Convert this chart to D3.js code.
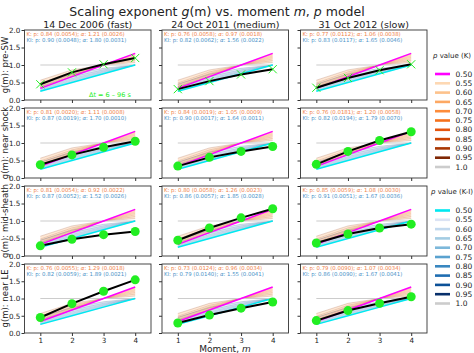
<!DOCTYPE html>
<html>
<head>
<meta charset="utf-8">
<title>Scaling exponent g(m) vs. moment m, p model</title>
<script src="https://d3js.org/d3.v7.min.js"></script>
<style>
  body { margin: 0; background: #fff; }
  svg { font-family: "DejaVu Sans", sans-serif; display: block; }
</style>
</head>
<body>
<svg width="474" height="353"></svg>
<script>
// moments and p values of the model curves
var moments = [1, 2, 3, 4];
var pLabels = ["0.50", "0.55", "0.60", "0.65", "0.70", "0.75", "0.80", "0.85", "0.90", "0.95", "1.0"];
var kColors = ["#ff00ff", "#fdd8b3", "#fdc28c", "#fda863", "#fd8c3b", "#f5711c", "#e5550e", "#cc4302", "#a93703", "#7f2704", "#cccccc"];
var kiColors = ["#00e8f0", "#dbe3f4", "#c2d9ee", "#a3cce3", "#7db8da", "#5aa2cf", "#3987c0", "#1f6db1", "#0c5197", "#08306b", "#cccccc"];

// p model g(m), Kolmogorov (K), one row per p value
var kModel = [
  [0.333, 0.667, 1.000, 1.333],
  [0.335, 0.668, 1.000, 1.330],
  [0.340, 0.673, 1.000, 1.320],
  [0.348, 0.682, 1.000, 1.305],
  [0.361, 0.694, 1.000, 1.282],
  [0.378, 0.710, 1.000, 1.253],
  [0.402, 0.732, 1.000, 1.218],
  [0.436, 0.762, 1.000, 1.176],
  [0.484, 0.801, 1.000, 1.128],
  [0.566, 0.860, 1.000, 1.070],
  [1.000, 1.000, 1.000, 1.000]
];
// p model g(m), Kraichnan-Iroshnikov (K-I)
var kiModel = [
  [0.250, 0.500, 0.750, 1.000],
  [0.251, 0.502, 0.751, 1.000],
  [0.256, 0.507, 0.755, 1.000],
  [0.263, 0.517, 0.762, 1.000],
  [0.273, 0.531, 0.773, 1.000],
  [0.288, 0.550, 0.786, 1.000],
  [0.309, 0.576, 0.805, 1.000],
  [0.338, 0.611, 0.828, 1.000],
  [0.380, 0.661, 0.860, 1.000],
  [0.454, 0.739, 0.905, 1.000],
  [1.000, 1.000, 1.000, 1.000]
];

var columns = ["14 Dec 2006 (fast)", "24 Oct 2011 (medium)", "31 Oct 2012 (slow)"];
var regions = ["pre-SW", "near shock", "mid-sheath", "near LE"];

// measured g(m), one array per event (column)
var gPreSW = [[0.45, 0.79, 1.02, 1.20], [0.31, 0.54, 0.73, 0.88], [0.35, 0.63, 0.85, 1.02]];
var gNearShock = [[0.38, 0.66, 0.88, 1.05], [0.34, 0.59, 0.76, 0.90], [0.39, 0.76, 1.07, 1.32]];
var gMidSheath = [[0.29, 0.48, 0.61, 0.70], [0.45, 0.80, 1.09, 1.35], [0.37, 0.63, 0.80, 0.91]];
var gNearLE = [[0.45, 0.85, 1.21, 1.54], [0.29, 0.52, 0.72, 0.90], [0.36, 0.65, 0.86, 1.05]];
var gData = [gPreSW, gNearShock, gMidSheath, gNearLE];

// fit results [p, p err, alpha, alpha err]
var kFit = [
  [["0.84", "0.0054", "1.21", "0.0026"], ["0.76", "0.0058", "0.97", "0.0018"], ["0.77", "0.0112", "1.06", "0.0038"]],
  [["0.81", "0.0020", "1.11", "0.0008"], ["0.84", "0.0019", "1.05", "0.0009"], ["0.76", "0.0181", "1.20", "0.0058"]],
  [["0.81", "0.0054", "0.92", "0.0022"], ["0.80", "0.0058", "1.26", "0.0023"], ["0.85", "0.0059", "1.08", "0.0030"]],
  [["0.76", "0.0055", "1.29", "0.0018"], ["0.73", "0.0124", "0.96", "0.0034"], ["0.79", "0.0090", "1.07", "0.0034"]]
];
var kiFit = [
  [["0.90", "0.0048", "1.80", "0.0031"], ["0.82", "0.0062", "1.56", "0.0022"], ["0.83", "0.0117", "1.65", "0.0046"]],
  [["0.87", "0.0019", "1.70", "0.0010"], ["0.90", "0.0017", "1.64", "0.0011"], ["0.82", "0.0194", "1.79", "0.0070"]],
  [["0.87", "0.0052", "1.52", "0.0026"], ["0.86", "0.0057", "1.85", "0.0028"], ["0.91", "0.0051", "1.67", "0.0036"]],
  [["0.82", "0.0059", "1.89", "0.0021"], ["0.79", "0.0140", "1.55", "0.0041"], ["0.86", "0.0090", "1.67", "0.0041"]]
];

var svg = d3.select("svg");
var colX = [[24.5, 151], [162, 288.5], [300.5, 427]];
var rowY = [[30, 100], [108, 178], [186, 256], [264, 333]];

// title
var title = svg.append("text").attr("x", 217).attr("y", 16)
  .attr("text-anchor", "middle").style("font-size", "12.5px").attr("fill", "#222");
title.append("tspan").text("Scaling exponent ");
title.append("tspan").style("font-style", "italic").text("g");
title.append("tspan").text("(m) vs. moment ");
title.append("tspan").style("font-style", "italic").text("m");
title.append("tspan").text(",  ");
title.append("tspan").style("font-style", "italic").text("p");
title.append("tspan").text(" model");

columns.forEach(function(c, i) {
  svg.append("text")
    .attr("x", (colX[i][0] + colX[i][1]) / 2).attr("y", 27.5)
    .attr("text-anchor", "middle").style("font-size", "9.5px").attr("fill", "#222")
    .text(c);
});

function fitLine(parent, x, y, label, f, color) {
  var t = parent.append("text").attr("x", x).attr("y", y)
    .style("font-size", "5.4px").attr("fill", color);
  t.append("tspan").text(label + ": p: " + f[0] + " (" + f[1] + "); ");
  t.append("tspan").style("font-style", "italic").text("α");
  t.append("tspan").text(": " + f[2] + " (" + f[3] + ")");
}

gData.forEach(function(rowVals, r) {
  rowVals.forEach(function(vals, c) {
    var x = d3.scaleLinear().domain([0.5, 4.5]).range(colX[c]);
    var y = d3.scaleLinear().domain([0, 2]).range([rowY[r][1], rowY[r][0]]);
    var g = svg.append("g");

    var line = d3.line()
      .x(function(d, i) { return x(moments[i]); })
      .y(function(d) { return y(d); });
    function band(lo, hi) {
      return d3.area()
        .x(function(d, i) { return x(moments[i]); })
        .y0(function(d, i) { return y(lo[i]); })
        .y1(function(d, i) { return y(hi[i]); })(moments);
    }

    // model bands, p = 0.50 .. 0.95
    g.append("path").attr("d", band(kiModel[0], kiModel[9]))
      .attr("fill", "#c9dcef").attr("opacity", 0.6);
    g.append("path").attr("d", band(kModel[0], kModel[9]))
      .attr("fill", "#fbd3b0").attr("opacity", 0.55);
    for (var k = 1; k < 10; k++) {
      g.append("path").attr("d", line(kiModel[k])).attr("fill", "none")
        .attr("stroke", kiColors[k]).attr("stroke-width", 0.6).attr("opacity", 0.3);
      g.append("path").attr("d", line(kModel[k])).attr("fill", "none")
        .attr("stroke", kColors[k]).attr("stroke-width", 0.6).attr("opacity", 0.3);
    }
    g.append("path").attr("d", line(kModel[10])).attr("fill", "none")
      .attr("stroke", "#cccccc").attr("stroke-width", 1.2);
    g.append("path").attr("d", line(kiModel[0])).attr("fill", "none")
      .attr("stroke", kiColors[0]).attr("stroke-width", 1.5);
    g.append("path").attr("d", line(kModel[0])).attr("fill", "none")
      .attr("stroke", kColors[0]).attr("stroke-width", 1.5);

    // measured g(m)
    g.append("path").attr("d", line(vals)).attr("fill", "none")
      .attr("stroke", "#000").attr("stroke-width", 2);
    if (r === 0) {
      g.selectAll(".mk").data(vals).enter().append("path")
        .attr("transform", function(d, i) { return "translate(" + x(moments[i]) + "," + y(d) + ")"; })
        .attr("d", d3.symbol().type(d3.symbolTimes).size(45))
        .attr("fill", "none").attr("stroke", "#22ee22").attr("stroke-width", 1);
    } else {
      g.selectAll(".mk").data(vals).enter().append("circle")
        .attr("cx", function(d, i) { return x(moments[i]); })
        .attr("cy", function(d) { return y(d); })
        .attr("r", 4.5).attr("fill", "#22ee22");
    }

    // axes
    var ya = g.append("g").attr("transform", "translate(" + colX[c][0] + ",0)")
      .call(d3.axisLeft(y).tickValues([0, 0.5, 1, 1.5, 2]).tickSize(3).tickPadding(1.2)
        .tickFormat(c === 0 ? d3.format(".1f") : ""));
    var xa = g.append("g").attr("transform", "translate(0," + rowY[r][1] + ")")
      .call(d3.axisBottom(x).tickValues(moments).tickSize(3).tickPadding(1.5)
        .tickFormat(r === 3 ? d3.format("d") : ""));
    [ya, xa].forEach(function(a) {
      a.select(".domain").remove();
      a.selectAll("line").attr("stroke", "#333");
      a.selectAll("text").style("font-size", "7.2px").attr("fill", "#222")
        .style("font-family", "DejaVu Sans, sans-serif");
    });
    g.append("rect").attr("x", colX[c][0]).attr("y", rowY[r][0])
      .attr("width", colX[c][1] - colX[c][0]).attr("height", rowY[r][1] - rowY[r][0])
      .attr("fill", "none").attr("stroke", "#333").attr("stroke-width", 0.9);

    fitLine(g, colX[c][0] + 2, rowY[r][0] + 6, "K", kFit[r][c], "#f0824a");
    fitLine(g, colX[c][0] + 2, rowY[r][0] + 11.5, "KI", kiFit[r][c], "#4a92c8");

    if (r === 0 && c === 0) {
      g.append("text").attr("x", x(3.2)).attr("y", y(0.08))
        .attr("text-anchor", "middle").style("font-size", "6.5px").attr("fill", "#22ee22")
        .text("Δt = 6 – 96 s");
    }
  });

  svg.append("text")
    .attr("transform", "translate(7.5," + (rowY[r][0] + rowY[r][1]) / 2 + ") rotate(-90)")
    .attr("text-anchor", "middle").style("font-size", "8.5px").attr("fill", "#222")
    .text("g(m): " + regions[r]);
});

// x label
var xl = svg.append("text").attr("x", 225).attr("y", 352)
  .attr("text-anchor", "middle").style("font-size", "9px").attr("fill", "#222");
xl.append("tspan").text("Moment, ");
xl.append("tspan").style("font-style", "italic").text("m");

// legends
function legend(top, name, colors) {
  var t = svg.append("text").attr("x", 452).attr("y", top)
    .attr("text-anchor", "middle").style("font-size", "7px").attr("fill", "#222");
  t.append("tspan").style("font-style", "italic").text("p");
  t.append("tspan").text(" value (" + name + ")");
  pLabels.forEach(function(p, i) {
    var yy = top + 16.5 + i * 9.3;
    svg.append("line").attr("x1", 435).attr("x2", 450).attr("y1", yy).attr("y2", yy)
      .attr("stroke", colors[i]).attr("stroke-width", 2.6);
    svg.append("text").attr("x", 455.5).attr("y", yy + 2.6)
      .style("font-size", "7.5px").attr("fill", "#222").text(p);
  });
}
legend(57.5, "K", kColors);
legend(194, "K-I", kiColors);
</script>
</body>
</html>
